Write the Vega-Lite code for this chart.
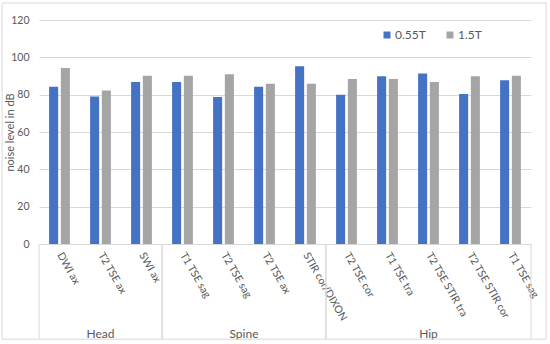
{
  "$schema": "https://vega.github.io/schema/vega-lite/v6.json",
  "width": 492,
  "height": 224,
  "autosize": "none",
  "padding": {"left": 39, "top": 20, "right": 19, "bottom": 100},
  "background": "white",
  "config": {
    "font": "Lato",
    "view": {"stroke": null},
    "axis": {"labelFont": "Lato", "titleFont": "Lato", "labelColor": "#595959", "titleColor": "#595959", "titleFontWeight": "normal"}
  },
  "datasets": {
    "noise": [
      {"key": "Head|DWI ax", "group": "Head", "field": "0.55T", "value": 84.3},
      {"key": "Head|DWI ax", "group": "Head", "field": "1.5T", "value": 94.3},
      {"key": "Head|T2 TSE ax", "group": "Head", "field": "0.55T", "value": 79.0},
      {"key": "Head|T2 TSE ax", "group": "Head", "field": "1.5T", "value": 82.2},
      {"key": "Head|SWI ax", "group": "Head", "field": "0.55T", "value": 86.8},
      {"key": "Head|SWI ax", "group": "Head", "field": "1.5T", "value": 90.2},
      {"key": "Spine|T1 TSE sag", "group": "Spine", "field": "0.55T", "value": 86.8},
      {"key": "Spine|T1 TSE sag", "group": "Spine", "field": "1.5T", "value": 90.2},
      {"key": "Spine|T2 TSE sag", "group": "Spine", "field": "0.55T", "value": 78.8},
      {"key": "Spine|T2 TSE sag", "group": "Spine", "field": "1.5T", "value": 91.0},
      {"key": "Spine|T2 TSE ax", "group": "Spine", "field": "0.55T", "value": 84.3},
      {"key": "Spine|T2 TSE ax", "group": "Spine", "field": "1.5T", "value": 85.8},
      {"key": "Spine|STIR cor/DIXON", "group": "Spine", "field": "0.55T", "value": 95.2},
      {"key": "Spine|STIR cor/DIXON", "group": "Spine", "field": "1.5T", "value": 85.9},
      {"key": "Hip|T2 TSE cor", "group": "Hip", "field": "0.55T", "value": 79.9},
      {"key": "Hip|T2 TSE cor", "group": "Hip", "field": "1.5T", "value": 88.4},
      {"key": "Hip|T1 TSE tra", "group": "Hip", "field": "0.55T", "value": 89.9},
      {"key": "Hip|T1 TSE tra", "group": "Hip", "field": "1.5T", "value": 88.4},
      {"key": "Hip|T2 TSE STIR tra", "group": "Hip", "field": "0.55T", "value": 91.3},
      {"key": "Hip|T2 TSE STIR tra", "group": "Hip", "field": "1.5T", "value": 86.8},
      {"key": "Hip|T2 TSE STIR cor", "group": "Hip", "field": "0.55T", "value": 80.3},
      {"key": "Hip|T2 TSE STIR cor", "group": "Hip", "field": "1.5T", "value": 89.9},
      {"key": "Hip|T1 TSE sag", "group": "Hip", "field": "0.55T", "value": 87.7},
      {"key": "Hip|T1 TSE sag", "group": "Hip", "field": "1.5T", "value": 90.2}
    ],
    "groups": [
      {"group": "Head", "from": 0, "to": 3},
      {"group": "Spine", "from": 3, "to": 7},
      {"group": "Hip", "from": 7, "to": 12}
    ]
  },
  "layer": [
    {
      "data": {"name": "noise"},
      "mark": {"type": "bar"},
      "encoding": {
        "x": {
          "field": "key", "type": "nominal", "sort": null,
          "scale": {"paddingInner": 0, "paddingOuter": 0},
          "axis": {
            "title": null,
            "labelExpr": "split(datum.label, '|')[1]",
            "labelAngle": 60,
            "labelAlign": "left",
            "labelBaseline": "middle",
            "labelFontSize": 10.5,
            "labelPadding": 9,
            "labelLimit": 200,
            "labelOverlap": false,
            "ticks": false,
            "domainColor": "#D9D9D9",
            "domainWidth": 1
          }
        },
        "xOffset": {"field": "field", "type": "nominal", "sort": ["0.55T", "1.5T"], "scale": {"paddingInner": 0.23, "paddingOuter": 0.86}},
        "y": {
          "field": "value", "type": "quantitative",
          "scale": {"domain": [0, 120], "nice": false},
          "axis": {
            "title": "noise level in dB",
            "titleFontSize": 11,
            "titleAngle": -90,
            "titleBaseline": "middle",
            "titleAlign": "center",
            "titleX": -29,
            "titleY": 112,
            "values": [0, 20, 40, 60, 80, 100, 120],
            "labelOverlap": false,
            "domain": false,
            "ticks": false,
            "labelFontSize": 10.5,
            "labelPadding": 10,
            "gridColor": "#D9D9D9",
            "gridWidth": 1
          }
        },
        "color": {
          "field": "field", "type": "nominal",
          "scale": {"domain": ["0.55T", "1.5T"], "range": ["#4472C4", "#A5A5A5"]},
          "legend": {
            "title": null,
            "orient": "none",
            "legendX": 342,
            "legendY": 9,
            "direction": "horizontal",
            "symbolType": "square",
            "symbolSize": 49,
            "symbolStrokeWidth": 0,
            "labelFontSize": 12,
            "labelColor": "#595959",
            "labelOffset": 2,
            "columnPadding": 18
          }
        }
      }
    },
    {
      "data": {"name": "groups"},
      "transform": [{"fold": ["from", "to"], "as": ["edge", "pos"]}],
      "mark": {"type": "rule", "color": "#D9D9D9", "strokeWidth": 1},
      "encoding": {
        "x": {"field": "pos", "type": "quantitative", "scale": {"domain": [0, 12], "nice": false, "zero": false}, "axis": null},
        "y": {"datum": 0, "type": "quantitative", "axis": null},
        "y2": {"datum": -51}
      }
    },
    {
      "data": {"name": "groups"},
      "transform": [{"calculate": "(datum.from + datum.to) / 2", "as": "mid"}],
      "mark": {"type": "text", "fontSize": 12, "color": "#595959", "baseline": "middle", "font": "Lato"},
      "encoding": {
        "x": {"field": "mid", "type": "quantitative", "scale": {"domain": [0, 12], "nice": false, "zero": false}, "axis": null},
        "y": {"datum": -48, "type": "quantitative", "axis": null},
        "text": {"field": "group"}
      }
    },
    {
      "data": {"values": [{}]},
      "mark": {"type": "rect", "fill": null, "stroke": "#D9D9D9", "strokeWidth": 1},
      "encoding": {
        "x": {"datum": -0.9, "type": "quantitative", "scale": {"domain": [0, 12], "nice": false, "zero": false}, "axis": null},
        "x2": {"datum": 12.37},
        "y": {"datum": 129.1, "type": "quantitative", "axis": null},
        "y2": {"datum": -51}
      }
    }
  ],
  "resolve": {"scale": {"x": "independent"}, "axis": {"x": "independent", "y": "independent"}}
}
